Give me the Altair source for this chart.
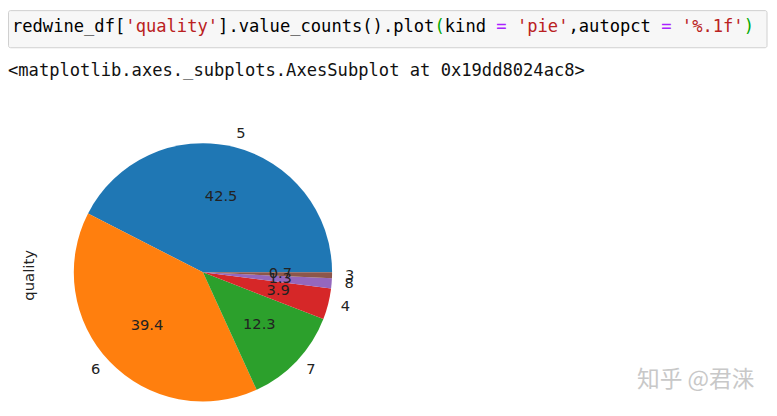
import math
import altair as alt
import pandas as pd

# ---- data ----
quality = ["5", "6", "7", "4", "8", "3"]
counts = [577, 535, 167, 53, 17, 10]
colors = ["#1f77b4", "#ff7f0e", "#2ca02c", "#d62728", "#9467bd", "#8c564b"]

code_segments = ["redwine_df[", "'quality'", "].value_counts().plot", "(", "kind ", "=", " ",
                 "'pie'", ",autopct ", "=", " ", "'%.1f'", ")"]
code_colors = ["#000000", "#BA2121", "#000000", "#00AA00", "#000000", "#AA22FF", "#000000",
               "#BA2121", "#000000", "#AA22FF", "#000000", "#BA2121", "#00AA00"]
output_line = "<matplotlib.axes._subplots.AxesSubplot at 0x19dd8024ac8>"
y_title = "quality"
watermark = "知乎 @君涞"

total = sum(counts)
pct_labels = [f"{100 * c / total:.1f}" for c in counts]

pie_df = pd.DataFrame({"quality": quality, "count": counts, "pct": pct_labels,
                       "idx": list(range(len(quality)))})

# code line: one text per coloured segment, placed by its character offset (monospace font)
MONO = "DejaVu Sans Mono"
FS = 17.3
CW = 0.602 * FS
rows = []
pos = 0
for seg, col in zip(code_segments, code_colors):
    if seg.strip():
        rows.append({"text": seg, "color": col, "px": 4 + pos * CW})
    pos += len(seg)
code_df = pd.DataFrame(rows)

CX, CY = 197, 265
R = 130.5
theta_scale = alt.Scale(domain=[0, total], range=[math.pi / 2, math.pi / 2 - 2 * math.pi])

base = alt.Chart(pie_df).transform_stack(
    stack="count", groupby=[], as_=["start", "end"],
    sort=[alt.SortField("idx", order="ascending")]
).transform_calculate(
    mid="(datum.start + datum.end) / 2",
    right=f"cos(2 * PI * ((datum.start + datum.end) / 2) / {total}) > 0"
)

arcs = base.mark_arc(radius=R).encode(
    theta=alt.Theta("start:Q", scale=theta_scale),
    theta2="end:Q",
    color=alt.Color("quality:N", scale=alt.Scale(domain=quality, range=colors), legend=None),
    x=alt.value(CX), y=alt.value(CY),
)

txt_style = dict(font="DejaVu Sans", fontSize=14.8, color="#222222", baseline="middle")

pcts = base.mark_text(radius=0.6 * R, align="center", **txt_style).encode(
    theta=alt.Theta("mid:Q", scale=theta_scale),
    text="pct:N", x=alt.value(CX), y=alt.value(CY),
)

labels_left = base.transform_filter("datum.right").mark_text(
    radius=1.1 * R, align="left", **txt_style).encode(
    theta=alt.Theta("mid:Q", scale=theta_scale),
    text="quality:N", x=alt.value(CX), y=alt.value(CY),
)
labels_right = base.transform_filter("!datum.right").mark_text(
    radius=1.1 * R, align="right", **txt_style).encode(
    theta=alt.Theta("mid:Q", scale=theta_scale),
    text="quality:N", x=alt.value(CX), y=alt.value(CY),
)

ytitle = alt.Chart(pd.DataFrame({"t": [y_title]})).mark_text(
    angle=270, font="DejaVu Sans", fontSize=15, color="#222222", align="center", baseline="middle"
).encode(text="t:N", x=alt.value(21), y=alt.value(268))

box = alt.Chart(pd.DataFrame({"a": [0]})).mark_rect(
    fill="#f7f7f7", stroke="#cfcfcf", strokeWidth=1, cornerRadius=2
).encode(x=alt.value(0.5), x2=alt.value(767), y=alt.value(0.5), y2=alt.value(38))

code = alt.Chart(code_df).mark_text(
    align="left", baseline="middle", font=MONO, fontSize=FS
).encode(text="text:N", color=alt.Color("color:N", scale=None),
         x=alt.X("px:Q", scale=None), y=alt.value(17))

out = alt.Chart(pd.DataFrame({"t": [output_line]})).mark_text(
    align="left", baseline="middle", font=MONO, fontSize=FS, color="#111111"
).encode(text="t:N", x=alt.value(0), y=alt.value(62))

wm = alt.Chart(pd.DataFrame({"t": [watermark]})).mark_text(
    align="center", baseline="middle", font="Noto Sans CJK SC", fontSize=23, color="#c8c8c8"
).encode(text="t:N", x=alt.value(695), y=alt.value(374))

chart = alt.layer(box, code, out, arcs, pcts, labels_left, labels_right, ytitle, wm).properties(
    width=769, height=408, padding=0,
    autosize=alt.AutoSizeParams(type="none"),
    background="white",
).configure_view(stroke=None)

chart.save("out.html", embed_options={"renderer": "svg", "actions": False})
